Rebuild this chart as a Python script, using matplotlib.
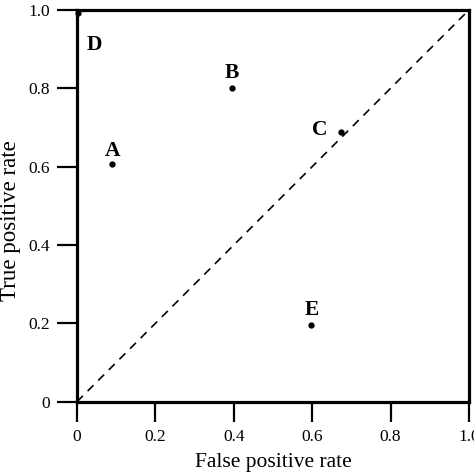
import numpy as np
import matplotlib
matplotlib.use("Agg")
import matplotlib.pyplot as plt

# points in ROC space
names = ["A", "B", "C", "D", "E"]
fpr = [0.09, 0.395, 0.673, 0.003, 0.596]
tpr = [0.608, 0.80, 0.689, 0.993, 0.196]
ticks = [0, 0.2, 0.4, 0.6, 0.8, 1.0]
tick_labels = ["0", "0.2", "0.4", "0.6", "0.8", "1.0"]

# label offsets in points (dx, dy)
offsets = {"A": (0, 9), "B": (0, 11), "C": (-15, 1), "D": (12, -23), "E": (1, 11)}


def main():
    plt.rcParams["font.family"] = ["Liberation Serif", "DejaVu Serif"]
    fig = plt.figure(figsize=(4.74, 4.74), dpi=100)
    ax = fig.add_axes([0.1624, 0.1525, 0.827, 0.8265])

    ax.plot([0, 1], [0, 1], color="black", linestyle=(0, (5, 4)), linewidth=1.2)
    ax.plot(fpr, tpr, "o", color="black", markersize=3.5, clip_on=False)

    for n, x, y in zip(names, fpr, tpr):
        dx, dy = offsets[n]
        ax.annotate(n, (x, y), xytext=(dx, dy), textcoords="offset points",
                    ha="center", va="center", fontsize=15.5, fontweight="bold")

    ax.set_xlim(0, 1)
    ax.set_ylim(0, 1)
    ax.set_xticks(ticks)
    ax.set_xticklabels(tick_labels)
    ax.set_yticks(ticks)
    ax.set_yticklabels(tick_labels)
    ax.tick_params(direction="out", length=14.4, width=1.6, labelsize=12.5, pad=5)
    for s in ax.spines.values():
        s.set_linewidth(2.3)

    ax.set_xlabel("False positive rate", fontsize=15.5, labelpad=6)
    ax.set_ylabel("True positive rate", fontsize=16.5)
    ax.yaxis.set_label_coords(-0.142, 0.463)

    fig.savefig("out.png", dpi=100)


if __name__ == "__main__":
    main()
